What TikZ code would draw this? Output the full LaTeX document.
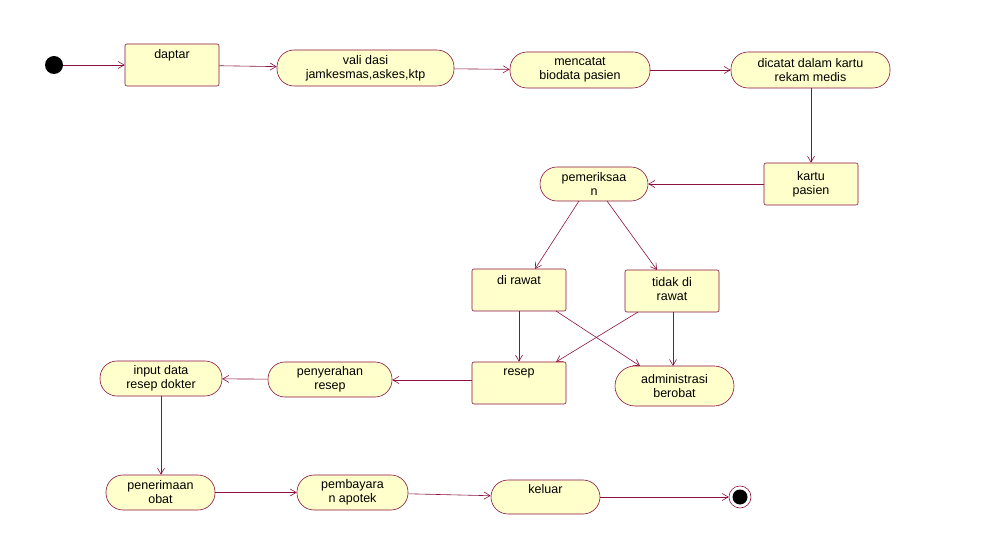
\documentclass[tikz,border=0pt]{standalone}
\usepackage{fontspec}
\setmainfont{Liberation Sans}
\usetikzlibrary{arrows.meta}
\definecolor{bd}{HTML}{8B1040}
\definecolor{fl}{HTML}{FFFFCC}
\begin{document}
\begin{tikzpicture}[x=1pt,y=-1pt,
  base/.style={draw=bd,fill=fl,line width=0.6pt,inner sep=0pt,align=center,font=\fontsize{12.5}{14}\selectfont},
  act/.style={base,rounded corners=#1},
  act/.default=17pt,
  box/.style={base,rounded corners=2pt},
  t/.style={font=\fontsize{12.5}{14}\selectfont,align=center,inner sep=0pt},
  ar/.style={draw=bd,line width=0.6pt,-{Straight Barb[length=6pt,width=7pt]}}]
\useasboundingbox (0,0) rectangle (996,545);
\fill[black] (54,65) circle (9);
\node (st) at (54,65) [circle,minimum size=18pt,inner sep=0pt] {};
\draw[bd,line width=0.6pt] (740,497) circle (11);
\fill[black] (740,497) circle (7.5);
\node (en) at (740,497) [circle,minimum size=22pt,inner sep=0pt] {};

\node[box,minimum width=94pt,minimum height=42pt] (daptar) at (172,65) {};
\node[t] (td) at (172,55) {daptar};
\node[act,minimum width=177pt,minimum height=36pt] (val) at (365.5,68) {vali dasi\\jamkesmas,askes,ktp};
\node[act,minimum width=140pt,minimum height=36pt] (men) at (580,70) {mencatat\\biodata pasien};
\node[act,minimum width=159pt,minimum height=36pt] (dic) at (810.5,70) {dicatat dalam kartu\\rekam medis};
\node[box,minimum width=94pt,minimum height=42pt] (kar) at (811,184) {};
\node[t] (tk) at (811,184) {kartu\\pasien};
\node[act,minimum width=108pt,minimum height=34pt] (pem) at (594,184) {pemeriksaa\\n};
\node[box,minimum width=94pt,minimum height=42pt] (dr) at (519,290) {};
\node[t] (tdr) at (519,280) {di rawat};
\node[box,minimum width=94pt,minimum height=42pt] (tdk) at (672,291) {};
\node[t] (ttdk) at (672,289) {tidak di\\rawat};
\node[box,minimum width=94pt,minimum height=42pt] (res) at (519,383) {};
\node[t] (tres) at (519,373) {resep};
\node[act=20pt,minimum width=119pt,minimum height=40pt] (adm) at (674.5,386) {administrasi\\berobat};
\node[act,minimum width=124pt,minimum height=35pt] (pen) at (330,379.5) {penyerahan\\resep};
\node[act,minimum width=122pt,minimum height=35pt] (inp) at (161,378.5) {input data\\resep dokter};
\node[act,minimum width=109pt,minimum height=35pt] (ter) at (160.5,492.5) {penerimaan\\obat};
\node[act,minimum width=111pt,minimum height=35pt] (bay) at (352.5,492.5) {pembayara\\n apotek};
\node[act,minimum width=109pt,minimum height=34pt] (kel) at (545.5,497) {};
\node[t] (tkel) at (545.5,489) {keluar};

\draw[ar] (st) -- (daptar.west |- st);
\draw[ar] (daptar) -- (val);
\draw[ar] (val) -- (men);
\draw[ar] (men) -- (dic);
\draw[ar] (dic.south -| kar.north) -- (kar.north);
\draw[ar] (kar) -- (pem);
\draw[ar] (579,201) -- (535,269);
\draw[ar] (607,201) -- (657,270);
\draw[ar] (dr.south) -- (res.north);
\draw[ar] (556,311) -- (640,366);
\draw[ar] (638,312) -- (556,362);
\draw[ar] (673,312) -- (673,366);
\draw[ar] (res.west |- 0,380) -- (pen.east |- 0,380);
\draw[ar] (pen) -- (inp);
\draw[ar] (inp.south) -- (inp.south |- ter.north);
\draw[ar] (ter) -- (bay);
\draw[ar] (bay) -- (kel);
\draw[ar] (kel) -- (en);
\end{tikzpicture}
\end{document}
